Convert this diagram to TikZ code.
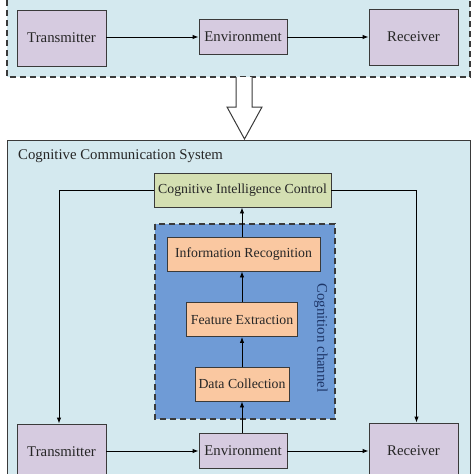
\documentclass[tikz,border=0pt]{standalone}
\usepackage{fontspec}
\setmainfont{Liberation Serif}
\usetikzlibrary{arrows.meta,positioning,calc}
\definecolor{sysfill}{HTML}{D4E9EF}
\definecolor{lav}{HTML}{D6CBE0}
\definecolor{cicfill}{HTML}{D4DFB2}
\definecolor{peach}{HTML}{FAC8A1}
\definecolor{chan}{HTML}{6F9BD6}
\definecolor{edge}{HTML}{3A3A3A}
\definecolor{chantext}{HTML}{1E3668}
\tikzset{
  blk/.style={draw=edge, line width=0.9pt, inner sep=0pt, font=\fontsize{14.8}{16}\selectfont, text=black!85},
  tr/.style={blk, fill=lav, minimum width=89pt, minimum height=56pt},
  env/.style={blk, fill=lav, minimum width=88pt, minimum height=35pt},
  cic/.style={blk, fill=cicfill, minimum width=177pt, minimum height=34pt, font=\fontsize{13.8}{16}\selectfont},
  proc/.style={blk, fill=peach, minimum height=34pt, font=\fontsize{13.8}{16}\selectfont},
  conn/.style={draw=black, line width=0.9pt, -{Latex[length=6pt,width=4.5pt]}},
  sysbox/.style={fill=sysfill, draw=edge, line width=1pt}
}
\begin{document}
\begin{tikzpicture}[x=1pt,y=-1pt]
\useasboundingbox (0,0) rectangle (474,474);
\fill[white] (0,0) rectangle (474,474);
% top system
\draw[sysbox, dashed, dash pattern=on 6pt off 4pt, line width=1.2pt] (7,-10) rectangle (470,77);
\node[tr] (Ttop) at (61.5,38) {Transmitter};
\node[env] (Etop) at (243,37) {Environment};
\node[tr] (Rtop) at (413.5,37) {Receiver};
\draw[conn] (Ttop.east |- Etop) -- (Etop.west);
\draw[conn] (Etop.east) -- (Rtop.west |- Etop);
% hollow arrow
\draw[fill=white, draw=edge, line width=1pt] (236,77) -- (236,107) -- (227,107) -- (244.5,139) -- (262,107) -- (252,107) -- (252,77);
% bottom system
\draw[sysbox] (7,140) rectangle (470,495);
\node[anchor=west, inner sep=0pt, font=\fontsize{14.8}{16}\selectfont, text=black!85] (title) at (18,156) {Cognitive Communication System};
\node[cic] (CIC) at (242.5,190) {Cognitive Intelligence Control};
\draw[fill=chan, draw=edge, line width=1.2pt, dashed, dash pattern=on 6pt off 4pt] (155,224) rectangle (335,419);
\node[rotate=-90, font=\fontsize{14.8}{16}\selectfont, text=chantext] (chlabel) at (321,338) {Cognition channel};
\node[proc, minimum width=153pt] (IR) at (243.5,254) {Information Recognition};
\node[proc, minimum width=111pt] (FE) at (242,319.5) {Feature Extraction};
\node[proc, minimum width=94pt] (DC) at (242,384) {Data Collection};
\node[tr] (Tbot) at (61.5,452) {Transmitter};
\node[env] (Ebot) at (243,451) {Environment};
\node[tr] (Rbot) at (413.5,451) {Receiver};
\draw[conn] (Tbot.east |- Ebot) -- (Ebot.west);
\draw[conn] (Ebot.east) -- (Rbot.west |- Ebot);
\draw[conn] (Ebot.north -| DC) -- (DC.south);
\draw[conn] (DC.north) -- (FE.south -| DC);
\draw[conn] (FE.north -| DC) -- (IR.south -| DC);
\draw[conn] (IR.north -| DC) -- (CIC.south -| DC);
\draw[conn] (CIC.west) -| ([xshift=-2.5pt]Tbot.north);
\draw[conn] (CIC.east) -| ([xshift=3pt]Rbot.north);
\end{tikzpicture}
\end{document}
